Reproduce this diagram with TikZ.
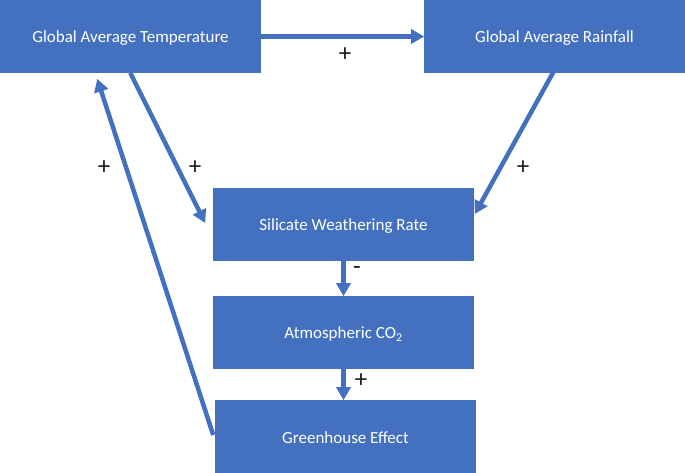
\documentclass[tikz,border=0pt]{standalone}
\usepackage{fontspec}
\setmainfont{Carlito}
\usetikzlibrary{arrows.meta}
\definecolor{boxblue}{HTML}{4371BF}
\tikzset{
  box/.style={rectangle, fill=boxblue, draw=boxblue, line width=0.6pt,
    minimum width=260pt, minimum height=72pt, inner sep=0pt,
    text=white, font=\fontsize{17}{20}\selectfont},
  lbl/.style={text=white, font=\fontsize{17}{20}\selectfont, inner sep=0pt},
  conn/.style={draw=boxblue, line width=4.5pt,
    -{Triangle[width=14pt,length=13pt]}},
  sign/.style={font=\fontsize{25}{26}\selectfont, text=black!90, inner sep=0pt}
}
\begin{document}
\begin{tikzpicture}[x=1pt,y=-1pt]
\useasboundingbox (0,0) rectangle (685,473);
\node[box] (gat) at (130.5,36.5) {};
\node[box] (gar) at (554.5,36.5) {};
\node[box] (swr) at (343.5,224.5) {};
\node[box] (co2) at (343.5,332.5) {};
\node[box] (ge)  at (345.5,436.5) {};
\node[lbl] (tgat) at ([yshift=-1.5]gat.center) {Global Average Temperature};
\node[lbl] (tgar) at ([yshift=-1.5]gar.center) {Global Average Rainfall};
\node[lbl] (tswr) at ([yshift=-1.5]swr.center) {Silicate Weathering Rate};
\node[lbl] (tco2) at ([yshift=-1.5]co2.center) {Atmospheric CO\textsubscript{2}};
\node[lbl] (tge)  at ([yshift=-1.5]ge.center) {Greenhouse Effect};

\draw[conn] (gat.east) -- (gar.west);
\draw[conn] ([xshift=130]gat.south west) -- ([xshift=-8,yshift=1.5]swr.west);
\draw[conn] ([xshift=-1,yshift=1]gar.south) -- ([xshift=1,yshift=10.5]swr.east);
\draw[conn] (swr.south) -- (co2.north);
\draw[conn] (co2.south) -- (co2.south |- ge.north);
\draw[conn] ([xshift=-2,yshift=1.5]ge.west) -- ([xshift=97,yshift=-6]gat.south west);

\node[sign] (s1) at (345,55) {+};
\node[sign] (s2) at (195,168) {+};
\node[sign] (s3) at (104,168) {+};
\node[sign] (s4) at (523,168) {+};
\node[sign] (s5) at (357,271) {-};
\node[sign] (s6) at (361,381) {+};
\end{tikzpicture}
\end{document}
